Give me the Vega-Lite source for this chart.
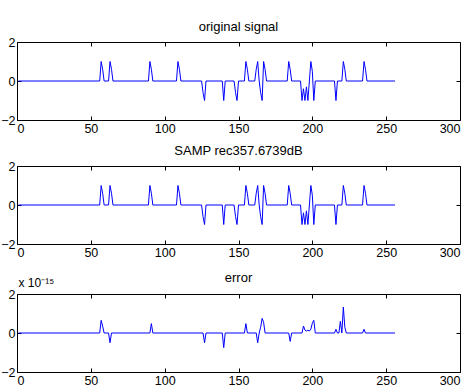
{
  "$schema": "https://vega.github.io/schema/vega-lite/v6.json",
  "padding": {"left": 0, "top": 20, "right": 5, "bottom": 0},
  "background": "white",
  "spacing": 9,
  "config": {
    "view": {"stroke": "black", "strokeWidth": 1},
    "font": "Liberation Sans",
    "axis": {
      "domain": false,
      "grid": false,
      "tickColor": "black",
      "tickSize": -4,
      "labelColor": "black",
      "labelFont": "Liberation Sans",
      "labelFontSize": 12.5,
      "labelPadding": 6,
      "title": null
    },
    "title": {"font": "Liberation Sans", "fontSize": 13, "fontWeight": "normal", "color": "black", "offset": 2, "frame": "group"}
  },
  "datasets": {
    "signal": [
      {"x": 1, "y": 0},
      {"x": 56, "y": 0}, {"x": 57, "y": 1}, {"x": 58, "y": 0.6}, {"x": 59, "y": 0},
      {"x": 62, "y": 0}, {"x": 63, "y": 1}, {"x": 64, "y": 0.6}, {"x": 65, "y": 0},
      {"x": 89, "y": 0}, {"x": 90, "y": 1}, {"x": 91, "y": 0.6}, {"x": 92, "y": 0},
      {"x": 108, "y": 0}, {"x": 109, "y": 1}, {"x": 110, "y": 0.6}, {"x": 111, "y": 0},
      {"x": 125, "y": 0}, {"x": 126, "y": -0.6}, {"x": 127, "y": -1}, {"x": 128, "y": 0},
      {"x": 139, "y": 0}, {"x": 140, "y": -1}, {"x": 141, "y": 0},
      {"x": 147, "y": 0}, {"x": 148, "y": -0.6}, {"x": 149, "y": -1}, {"x": 150, "y": 0},
      {"x": 154, "y": 0}, {"x": 155, "y": 1}, {"x": 156, "y": 0.6}, {"x": 157, "y": 0},
      {"x": 161, "y": 0}, {"x": 162, "y": 0.6}, {"x": 163, "y": 1}, {"x": 164, "y": 0}, {"x": 165, "y": -0.6}, {"x": 166, "y": -1}, {"x": 167, "y": 1}, {"x": 168, "y": 0.6}, {"x": 169, "y": 0},
      {"x": 183, "y": 0}, {"x": 184, "y": 1}, {"x": 185, "y": 0.6}, {"x": 186, "y": 0},
      {"x": 192, "y": 0}, {"x": 193, "y": -1}, {"x": 194, "y": -0.4}, {"x": 195, "y": -1}, {"x": 196, "y": -0.3}, {"x": 197, "y": -1}, {"x": 198, "y": 0}, {"x": 199, "y": 1}, {"x": 200, "y": 0.5}, {"x": 201, "y": -1}, {"x": 202, "y": 0},
      {"x": 215, "y": 0}, {"x": 216, "y": -1}, {"x": 217, "y": 0},
      {"x": 220, "y": 0}, {"x": 221, "y": 1}, {"x": 222, "y": 0.6}, {"x": 223, "y": 0},
      {"x": 234, "y": 0}, {"x": 235, "y": 1}, {"x": 236, "y": 0.6}, {"x": 237, "y": 0},
      {"x": 256, "y": 0}
    ],
    "error": [
      {"x": 1, "y": 0},
      {"x": 56, "y": 0}, {"x": 57, "y": 0.65}, {"x": 58, "y": 0.35}, {"x": 59, "y": 0},
      {"x": 62, "y": 0}, {"x": 63, "y": -0.5}, {"x": 64, "y": 0},
      {"x": 90, "y": 0}, {"x": 91, "y": 0.48}, {"x": 92, "y": 0},
      {"x": 126, "y": 0}, {"x": 127, "y": -0.5}, {"x": 128, "y": 0},
      {"x": 139, "y": 0}, {"x": 140, "y": -0.75}, {"x": 141, "y": 0},
      {"x": 154, "y": 0}, {"x": 155, "y": 0.48}, {"x": 156, "y": 0},
      {"x": 162, "y": 0}, {"x": 163, "y": -0.5}, {"x": 164, "y": 0}, {"x": 165, "y": 0.3}, {"x": 166, "y": 0.75}, {"x": 167, "y": 0.55}, {"x": 168, "y": 0},
      {"x": 184, "y": 0}, {"x": 185, "y": -0.43}, {"x": 186, "y": 0},
      {"x": 193, "y": 0}, {"x": 194, "y": 0.36}, {"x": 195, "y": 0.15}, {"x": 196, "y": 0.1}, {"x": 197, "y": 0.15}, {"x": 198, "y": 0.1}, {"x": 199, "y": 0.2}, {"x": 200, "y": 0.5}, {"x": 201, "y": 0.65}, {"x": 202, "y": 0},
      {"x": 215, "y": 0}, {"x": 216, "y": 0.19}, {"x": 217, "y": 0},
      {"x": 218, "y": 0}, {"x": 219, "y": 0.6}, {"x": 220, "y": 0}, {"x": 221, "y": 1.33}, {"x": 222, "y": 0.3}, {"x": 223, "y": 0},
      {"x": 234, "y": 0}, {"x": 235, "y": 0.19}, {"x": 236, "y": 0},
      {"x": 256, "y": 0}
    ]
  },
  "vconcat": [
    {
      "title": "original signal",
      "width": 443, "height": 78,
      "data": {"name": "signal"},
      "layer": [
        {"mark": {"type": "line", "color": "#0000ff", "strokeWidth": 1},
         "encoding": {
           "x": {"field": "x", "type": "quantitative", "scale": {"domain": [0, 300], "nice": false}, "axis": {"values": [0, 50, 100, 150, 200, 250, 300]}},
           "y": {"field": "y", "type": "quantitative", "scale": {"domain": [-2, 2], "nice": false}, "axis": {"values": [-2, 0, 2]}}
         }},
        {"mark": {"type": "line", "opacity": 0},
         "encoding": {
           "x": {"field": "x", "type": "quantitative", "axis": {"orient": "top", "labels": false, "values": [0, 50, 100, 150, 200, 250, 300]}},
           "y": {"field": "y", "type": "quantitative", "axis": {"orient": "right", "labels": false, "values": [-2, 0, 2]}}
         }}
      ],
      "resolve": {"axis": {"x": "independent", "y": "independent"}}
    },
    {
      "title": "SAMP rec357.6739dB",
      "width": 443, "height": 78,
      "data": {"name": "signal"},
      "layer": [
        {"mark": {"type": "line", "color": "#0000ff", "strokeWidth": 1},
         "encoding": {
           "x": {"field": "x", "type": "quantitative", "scale": {"domain": [0, 300], "nice": false}, "axis": {"values": [0, 50, 100, 150, 200, 250, 300]}},
           "y": {"field": "y", "type": "quantitative", "scale": {"domain": [-2, 2], "nice": false}, "axis": {"values": [-2, 0, 2]}}
         }},
        {"mark": {"type": "line", "opacity": 0},
         "encoding": {
           "x": {"field": "x", "type": "quantitative", "axis": {"orient": "top", "labels": false, "values": [0, 50, 100, 150, 200, 250, 300]}},
           "y": {"field": "y", "type": "quantitative", "axis": {"orient": "right", "labels": false, "values": [-2, 0, 2]}}
         }}
      ],
      "resolve": {"axis": {"x": "independent", "y": "independent"}}
    },
    {
      "title": {"text": "error", "offset": -16},
      "width": 443, "height": 78,
      "data": {"name": "error"},
      "layer": [
        {"mark": {"type": "line", "color": "#0000ff", "strokeWidth": 1},
         "encoding": {
           "x": {"field": "x", "type": "quantitative", "scale": {"domain": [0, 300], "nice": false}, "axis": {"values": [0, 50, 100, 150, 200, 250, 300]}},
           "y": {"field": "y", "type": "quantitative", "scale": {"domain": [-2, 2], "nice": false},
                 "axis": {"values": [-2, 0, 2], "title": "x 10⁻¹⁵", "titleAngle": 0, "titleAlign": "left", "titleBaseline": "alphabetic", "titleX": 1, "titleY": -8, "titleFont": "Liberation Sans", "titleFontSize": 12, "titleFontWeight": "normal", "titleColor": "black"}}
         }},
        {"mark": {"type": "line", "opacity": 0},
         "encoding": {
           "x": {"field": "x", "type": "quantitative", "axis": {"orient": "top", "labels": false, "values": [0, 50, 100, 150, 200, 250, 300], "title": " ", "titleOpacity": 0, "titleFontSize": 12, "titlePadding": 12}},
           "y": {"field": "y", "type": "quantitative", "axis": {"orient": "right", "labels": false, "values": [-2, 0, 2]}}
         }}
      ],
      "resolve": {"axis": {"x": "independent", "y": "independent"}}
    }
  ]
}
